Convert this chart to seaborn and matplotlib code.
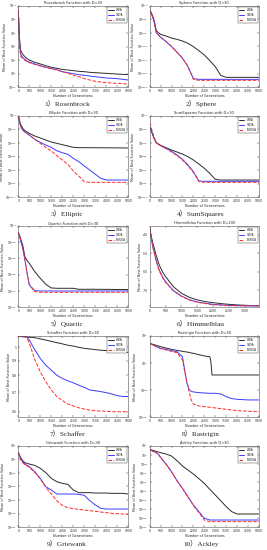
import matplotlib
import numpy as np
import seaborn as sns

matplotlib.use("Agg")
import matplotlib.pyplot as plt
from matplotlib.ticker import FixedLocator, FuncFormatter, NullLocator

GENS = [0, 50, 100, 200, 300, 400, 500, 750, 1000, 1250, 1500, 1750, 2000,
        2250, 2500, 2750, 3000, 3250, 3500, 3750, 4000, 4250, 4500, 4750, 5000]
RASTRIGIN_GENS = [0, 250, 500, 750, 1000, 1250, 1500, 1600, 1700, 1800, 1900, 2000, 2250,
                  2500, 2750, 2800, 2850, 3000, 3250, 3500, 3750, 4000, 4250, 4500, 4750, 5000]
HIMMELBLAU_GENS = [0, 50, 100, 200, 300, 400, 500, 750, 1000, 1250, 1500, 1750, 2000,
                   2250, 2500, 2750, 3000, 3250, 3450]

LABELS = ["WOA", "IWOA", "LSWOA"]

# log10 of mean best function value
ROSENBROCK_WOA = [9.36, 5.44, 3.48, 2.85, 2.50, 2.21, 2.01, 1.67, 1.43, 1.18, 0.94, 0.79, 0.64,
                  0.54, 0.45, 0.35, 0.30, 0.20, 0.15, 0.10, 0.05, 0.00, -0.05, -0.10, -0.14]
ROSENBROCK_IWOA = [9.36, 4.95, 2.89, 2.40, 2.11, 1.86, 1.72, 1.42, 1.18, 0.94, 0.74, 0.59, 0.30,
                   0.15, 0.00, -0.14, -0.24, -0.34, -0.44, -0.54, -0.63, -0.68, -0.73, -0.83, -0.93]
ROSENBROCK_NEW = [9.46, 4.71, 2.60, 2.21, 1.96, 1.77, 1.62, 1.37, 1.13, 0.94, 0.74, 0.55, 0.30,
                  0.06, -0.24, -0.44, -0.73, -0.93, -1.12, -1.22, -1.32, -1.37, -1.42, -1.47, -1.52]

SPHERE_WOA = [7.3, 1.4, -4.5, -22.1, -53.5, -59.4, -64.3, -69.2, -75.1, -79.0, -83.9, -90.7, -100.5,
              -112.3, -125.0, -141.7, -159.3, -185.0, -190.7, -190.7, -190.7, -190.7, -190.7, -190.7, -190.7]
SPHERE_IWOA = [7.3, -0.6, -7.4, -27.0, -59.4, -66.2, -73.1, -85.8, -100.5, -117.2, -134.8, -159.3, -194.6,
               -196.6, -196.6, -196.6, -196.6, -196.6, -196.6, -196.6, -196.6, -196.6, -196.6, -196.6, -196.6]
SPHERE_NEW = [9.2, 0.4, -6.5, -25.1, -58.4, -65.3, -72.1, -84.9, -99.6, -116.2, -133.9, -158.4, -196.6,
              -199.5, -199.5, -199.5, -199.5, -199.5, -199.5, -199.5, -199.5, -199.5, -199.5, -199.5, -199.5]

ELLIPTIC_WOA = [10.0, 3.6, -2.3, -8.6, -12.1, -14.1, -16.0, -19.9, -22.8, -25.8, -28.7, -30.7, -32.6,
                -34.6, -36.5, -37.0, -37.0, -37.1, -37.1, -37.2, -37.2, -37.3, -37.3, -37.4, -37.5]
ELLIPTIC_IWOA = [10.0, 1.2, -5.2, -11.1, -14.0, -16.5, -18.4, -24.8, -29.2, -33.1, -36.6, -41.5, -44.4,
                 -46.8, -52.7, -57.6, -64.0, -69.9, -76.2, -82.1, -84.6, -84.6, -84.6, -84.6, -84.6]
ELLIPTIC_NEW = [10.0, 1.2, -5.2, -11.1, -14.0, -16.5, -18.4, -24.8, -30.7, -36.6, -41.9, -48.8, -55.2,
                -61.5, -71.3, -78.7, -87.0, -88.0, -88.0, -88.0, -88.0, -88.0, -88.0, -88.0, -88.0]

SUMSQUARES_WOA = [-8.6, -11.1, -15.0, -23.3, -29.7, -31.7, -33.6, -37.0, -40.5, -43.4, -46.4, -50.3, -55.2,
                  -61.1, -67.4, -74.8, -83.6, -84.6, -84.6, -84.6, -84.6, -84.6, -84.6, -84.6, -84.6]
SUMSQUARES_IWOA = [-6.2, -9.6, -14.0, -23.3, -29.7, -32.1, -34.1, -38.0, -42.4, -47.8, -54.2, -62.5, -72.3,
                   -86.0, -86.5, -86.5, -86.5, -86.5, -86.5, -86.5, -86.5, -86.5, -86.5, -86.5, -86.5]
SUMSQUARES_NEW = [-0.3, -5.2, -11.1, -21.9, -29.7, -32.1, -34.1, -38.5, -43.4, -48.8, -55.2, -63.5, -73.3,
                  -87.0, -88.0, -88.0, -88.0, -88.0, -88.0, -88.0, -88.0, -88.0, -88.0, -88.0, -88.0]

QUARTIC_WOA = [0.6, -1.4, -5.5, -13.7, -27.9, -32.8, -36.1, -46.3, -54.5, -61.8, -66.3, -66.7, -66.7,
               -66.7, -66.7, -67.9, -67.9, -67.9, -67.9, -68.0, -68.0, -68.1, -68.2, -68.2, -68.3]
QUARTIC_IWOA = [1.4, -2.6, -7.5, -17.7, -32.0, -48.3, -62.6, -69.6, -70.0, -70.0, -70.0, -70.0, -70.0,
                -70.0, -70.0, -70.0, -70.0, -70.0, -70.0, -70.0, -70.0, -70.0, -70.0, -70.0, -70.0]
QUARTIC_NEW = [2.2, -1.8, -6.7, -16.9, -31.2, -47.5, -62.6, -70.8, -71.6, -71.6, -71.6, -71.6, -71.6,
               -71.6, -71.6, -71.6, -71.6, -71.6, -71.6, -71.6, -71.6, -71.6, -71.6, -71.6, -71.6]

# Himmelblau is on a linear axis (plain values)
HIMMELBLAU_WOA = [-36.4, -40.9, -44.5, -50.8, -56.2, -59.8, -62.5, -68.0, -71.5, -73.7, -75.1, -76.0,
                  -76.6, -77.1, -77.5, -77.8, -78.0, -78.2, -78.3]
HIMMELBLAU_IWOA = [-35.9, -41.8, -46.3, -53.5, -58.9, -62.5, -65.3, -70.1, -73.0, -75.0, -76.2, -76.9,
                   -77.5, -77.8, -78.0, -78.2, -78.3, -78.3, -78.3]
HIMMELBLAU_NEW = [-35.5, -42.0, -46.7, -53.9, -59.3, -62.9, -65.6, -70.3, -73.2, -75.1, -76.4, -77.1,
                  -77.7, -78.0, -78.2, -78.3, -78.3, -78.3, -78.3]

# Schaffer: plain values on a narrow log axis
SCHAFFER_WOA = [1.090, 1.090, 1.090, 1.088, 1.088, 1.086, 1.084, 1.080, 1.069, 1.060, 1.049, 1.038, 1.028,
                1.017, 1.010, 1.000, 0.992, 0.987, 0.982, 0.977, 0.975, 0.970, 0.967, 0.962, 0.960]
SCHAFFER_IWOA = [1.090, 1.090, 1.090, 1.089, 1.088, 1.083, 1.060, 0.980, 0.916, 0.867, 0.834, 0.801, 0.781,
                 0.766, 0.754, 0.740, 0.727, 0.712, 0.708, 0.703, 0.697, 0.690, 0.681, 0.676, 0.676]
SCHAFFER_NEW = [1.090, 1.090, 1.090, 1.089, 1.088, 1.077, 1.033, 0.906, 0.823, 0.760, 0.712, 0.676, 0.655,
                0.637, 0.627, 0.618, 0.612, 0.607, 0.604, 0.602, 0.601, 0.599, 0.599, 0.599, 0.599]

RASTRIGIN_WOA = [3.59, 3.29, 2.98, 2.74, 2.49, 2.31, 2.12, 2.06, 2.00, 1.94, 1.82, 1.76, 1.51,
                 1.27, 1.14, 0.23, -2.22, -2.22, -2.22, -2.22, -2.22, -2.22, -2.22, -2.22, -2.22, -2.22]
RASTRIGIN_IWOA = [3.59, 3.10, 2.67, 2.49, 2.25, 2.06, 1.14, -1.30, -3.63, -4.85, -5.22, -5.34, -5.47,
                  -5.53, -5.59, -5.59, -5.59, -5.59, -5.71, -6.20, -6.57, -6.69, -6.75, -6.81, -6.81, -6.81]
RASTRIGIN_NEW = [3.59, 3.10, 2.61, 2.37, 2.12, 1.88, 0.53, -1.61, -3.45, -5.28, -6.81, -7.55, -7.91,
                 -8.04, -8.16, -8.16, -8.22, -8.28, -8.40, -8.53, -8.65, -8.77, -8.83, -8.89, -8.95, -8.95]

GRIEWANK_WOA = [2.43, 1.69, 0.71, -0.51, -1.25, -1.49, -1.74, -2.23, -3.33, -4.92, -7.01, -8.23, -8.84,
                -9.21, -11.29, -12.27, -12.27, -12.27, -12.40, -12.40, -12.40, -12.52, -12.52, -12.52, -12.76]
GRIEWANK_IWOA = [2.43, 1.45, 0.35, -0.88, -1.74, -2.23, -2.72, -4.56, -7.01, -10.07, -11.29, -12.76, -12.76,
                 -12.76, -12.76, -12.89, -13.25, -15.21, -16.81, -18.03, -18.28, -18.28, -18.28, -18.28, -18.28]
GRIEWANK_NEW = [2.43, 1.20, -0.02, -1.25, -1.98, -2.47, -2.96, -4.80, -7.25, -10.31, -12.76, -15.21, -16.93,
                -17.79, -18.15, -18.40, -18.64, -18.89, -19.13, -19.38, -19.62, -19.87, -19.99, -20.11, -20.24]

ACKLEY_WOA = [1.19, 1.12, 1.04, 0.90, 0.75, 0.60, 0.46, 0.16, -0.28, -1.31, -2.48, -3.37, -4.25,
              -5.28, -6.31, -7.63, -8.88, -10.13, -11.45, -12.55, -13.07, -13.07, -13.07, -13.07, -13.07]
ACKLEY_IWOA = [1.04, 0.97, 0.90, 0.68, 0.46, 0.09, -0.57, -2.04, -3.73, -5.72, -7.41, -9.25, -11.08,
               -12.55, -14.02, -14.39, -14.39, -14.39, -14.39, -14.39, -14.39, -14.39, -14.39, -14.39, -14.39]
ACKLEY_NEW = [1.04, 0.97, 0.90, 0.68, 0.46, 0.09, -0.65, -2.12, -3.81, -5.79, -7.48, -9.32, -11.23,
              -12.77, -14.39, -14.76, -14.76, -14.76, -14.76, -14.76, -14.76, -14.76, -14.76, -14.76, -14.76]

COLORS = ["#2b2b2b", "#3c3cff", "#ff2a2a"]
STYLES = ["-", "-", "--"]

FIG_W, FIG_H = 267, 550


def configure_plot_style() -> None:
    sns.set_theme(style="white")
    plt.rcParams.update(
        {
            "font.family": ["DejaVu Sans"],
            "axes.edgecolor": "#555555",
            "axes.linewidth": 0.4,
            "xtick.direction": "in",
            "ytick.direction": "in",
            "xtick.major.size": 1.2,
            "ytick.major.size": 1.2,
            "xtick.major.width": 0.3,
            "ytick.major.width": 0.3,
            "xtick.major.pad": 1.0,
            "ytick.major.pad": 1.0,
            "xtick.labelsize": 2.2,
            "ytick.labelsize": 2.2,
            "axes.labelsize": 2.4,
            "axes.titlesize": 2.6,
        }
    )


def add_panel(fig, row, col, spec):
    x0 = 0 if col == 0 else 134
    y0 = row * 110
    left = x0 + (18.3 if col == 0 else 15.7)
    width = 110 if col == 0 else 109.3
    top = y0 + 5.7
    height = 81.6
    ax = fig.add_axes([left / FIG_W, 1 - (top + height) / FIG_H, width / FIG_W, height / FIG_H])

    kind = spec["kind"]
    for values, label, color, style in zip(spec["series"], LABELS, COLORS, STYLES):
        y = np.asarray(values, dtype=float)
        if kind == "log10":
            y = 10.0 ** y
        sns.lineplot(x=spec["gens"], y=y, ax=ax, color=color, linestyle=style,
                     linewidth=0.7, label=label)

    if kind in ("log10", "log"):
        ax.set_yscale("log")
    ax.set_xlim(0, spec.get("xmax", 5000))
    ax.set_xticks(spec.get("xticks", range(0, 5001, 500)))
    ax.set_ylim(*spec["ylim"])
    ax.yaxis.set_major_locator(FixedLocator(spec["yticks"]))
    ax.yaxis.set_minor_locator(NullLocator())
    if kind == "log10":
        ax.yaxis.set_major_formatter(FuncFormatter(lambda v, _: f"$10^{{{int(round(np.log10(v)))}}}$"))
    else:
        ax.yaxis.set_major_formatter(FuncFormatter(lambda v, _: f"{v:g}"))

    ax.set_title(spec["title"], pad=1.0)
    ax.set_xlabel("Number of Generations", labelpad=1.0)
    ax.set_ylabel("Mean of Best Function Value", labelpad=1.0)
    for side in ("top", "right", "bottom", "left"):
        ax.spines[side].set_visible(True)
    ax.tick_params(top=True, right=True, bottom=True, left=True)
    ax.legend(loc="upper right", fontsize=2.0, frameon=True, fancybox=False, edgecolor="#333333",
              handlelength=2.0, borderpad=0.4, labelspacing=0.3, framealpha=1.0).get_frame().set_linewidth(0.3)

    fig.text((x0 + 67) / FIG_W, 1 - (y0 + 103) / FIG_H, spec["caption"], ha="center", va="center",
             fontsize=5.2, family=["Liberation Serif", "Noto Sans CJK SC"])


def log_ticks(top, step, count):
    return [10.0 ** (top - step * i) for i in range(count)]


def main() -> None:
    configure_plot_style()
    fig = plt.figure(figsize=(FIG_W / 100, FIG_H / 100), dpi=100)

    panels = [
        dict(title="Rosenbrock Function with D=30", caption="1）Rosenbrock", gens=GENS, kind="log10",
             series=[ROSENBROCK_WOA, ROSENBROCK_IWOA, ROSENBROCK_NEW],
             yticks=log_ticks(10, 2, 7), ylim=(1e-2, 1e10)),
        dict(title="Sphere Function with D=30", caption="2）Sphere", gens=GENS, kind="log10",
             series=[SPHERE_WOA, SPHERE_IWOA, SPHERE_NEW],
             yticks=log_ticks(20, 40, 7), ylim=(1e-220, 1e20)),
        dict(title="Elliptic Function with D=30", caption="3）Elliptic", gens=GENS, kind="log10",
             series=[ELLIPTIC_WOA, ELLIPTIC_IWOA, ELLIPTIC_NEW],
             yticks=log_ticks(10, 20, 7), ylim=(1e-110, 1e10)),
        dict(title="SumSquares Function with D=30", caption="4）SumSquares", gens=GENS, kind="log10",
             series=[SUMSQUARES_WOA, SUMSQUARES_IWOA, SUMSQUARES_NEW],
             yticks=log_ticks(10, 20, 7), ylim=(1e-110, 1e10)),
        dict(title="Quartic Function with D=30", caption="5）Quartic", gens=GENS, kind="log10",
             series=[QUARTIC_WOA, QUARTIC_IWOA, QUARTIC_NEW],
             yticks=log_ticks(10, 20, 6), ylim=(1e-90, 1e10)),
        dict(title="Himmelblau Function with D=200", caption="6）Himmelblau", gens=HIMMELBLAU_GENS,
             kind="linear", series=[HIMMELBLAU_WOA, HIMMELBLAU_IWOA, HIMMELBLAU_NEW],
             yticks=[-40, -50, -60, -70], ylim=(-79.1, -35), xmax=3450, xticks=range(0, 3001, 500)),
        dict(title="Schaffer Function with D=30", caption="7）Schaffer", gens=GENS, kind="log",
             series=[SCHAFFER_WOA, SCHAFFER_IWOA, SCHAFFER_NEW],
             yticks=[0.6, 0.7, 0.8, 0.9, 1.0], ylim=(0.573, 1.097)),
        dict(title="Rastrigin Function with D=30", caption="8）Rastrigin", gens=RASTRIGIN_GENS, kind="log10",
             series=[RASTRIGIN_WOA, RASTRIGIN_IWOA, RASTRIGIN_NEW],
             yticks=log_ticks(5, 5, 4), ylim=(1e-10, 1e5)),
        dict(title="Griewank Function with D=30", caption="9）Griewank", gens=GENS, kind="log10",
             series=[GRIEWANK_WOA, GRIEWANK_IWOA, GRIEWANK_NEW],
             yticks=log_ticks(5, 5, 7), ylim=(1e-25, 1e5)),
        dict(title="Ackley Function with D=30", caption="10）Ackley", gens=GENS, kind="log10",
             series=[ACKLEY_WOA, ACKLEY_IWOA, ACKLEY_NEW],
             yticks=log_ticks(2, 2, 10), ylim=(1e-16, 1e2)),
    ]

    for index, spec in enumerate(panels):
        add_panel(fig, index // 2, index % 2, spec)

    fig.savefig("out.png", dpi=100, facecolor="white")
    plt.close(fig)


if __name__ == "__main__":
    main()
